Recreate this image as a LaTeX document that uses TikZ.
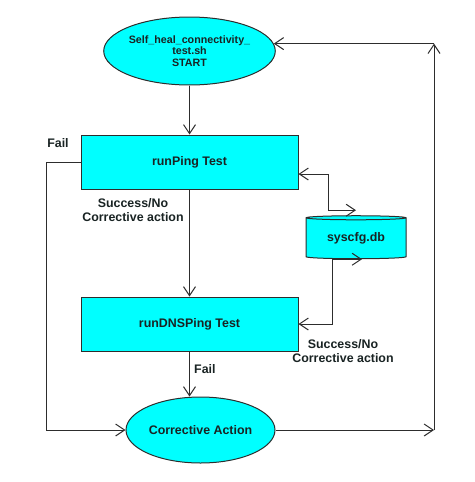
\documentclass[tikz,border=0pt]{standalone}
\usepackage{fontspec}
\setmainfont{Liberation Sans}
\usetikzlibrary{arrows.meta,shapes.geometric}
\definecolor{boxfill}{RGB}{0,255,255}
\definecolor{edge}{RGB}{45,45,45}
\definecolor{txt}{RGB}{25,35,35}
\tikzset{
  base/.style={draw=edge, line width=1pt, fill=boxfill, text=txt,
    font=\bfseries\fontsize{12.4}{14.4}\selectfont, inner sep=0pt, align=center},
  procbox/.style={base, rectangle, minimum width=217pt, minimum height=54pt},
  oval/.style={base, ellipse},
  dbshape/.style={base, cylinder, shape border rotate=90, aspect=0.07,
    minimum width=100pt, minimum height=43pt},
  lbl/.style={text=txt, font=\bfseries\fontsize{12.4}{14.4}\selectfont, align=center, inner sep=0pt},
  conn/.style={draw=edge, line width=1pt, arrows={-Straight Barb[length=9pt,width=12pt]}},
  conn2/.style={draw=edge, line width=1pt, arrows={Straight Barb[length=9pt,width=12pt]-Straight Barb[length=9pt,width=12pt]}},
}
\begin{document}
\begin{tikzpicture}[x=1pt,y=-1pt]
\useasboundingbox (0,0) rectangle (474,482);
\node[oval, minimum width=145pt, minimum height=68pt,
  font=\bfseries\fontsize{10.7}{11.5}\selectfont] (start) at (189.5,51)
  {Self\_heal\_connectivity\_\\test.sh\\START};
\node[procbox] (ping) at (189.5,162) {runPing Test};
\node[procbox] (dns) at (189.5,324) {runDNSPing Test};
\node[dbshape] (db) at (356,238.5) {syscfg.db};
\node[oval, minimum width=149pt, minimum height=66pt] (corr) at (200.5,430) {Corrective Action};

\node[lbl] (fail1) at (58,143) {Fail};
\node[lbl] (succ1) at (133,210) {Success/No\\Corrective action};
\node[lbl, anchor=west] (fail2) at (194,369) {Fail};
\node[lbl] (succ2) at (343,351) {Success/No\\Corrective action};

\coordinate (lf) at (46,430);
\coordinate (rb) at (434,430);
\coordinate (rt) at (rb |- start.5);
\coordinate (tdb) at ([yshift=5pt]db.north);
\coordinate (tj) at ([xshift=-28pt]tdb);
\coordinate (bdb) at ([xshift=6pt]db.south);
\coordinate (bj) at ([xshift=-24pt]db.south);

\draw[conn] (start.south) -- (ping.north);
\draw[conn] (ping.south) -- (dns.north);
\draw[conn] (dns.south) -- (corr.north -| dns.south);
\draw[conn] (ping.west) -| (lf) -- (corr.west);
\draw[conn] (corr.east) -- (rb);
\draw[conn] (rb) -- (rt);
\draw[conn] (rt) -- (start.5);
\draw[conn2] (tdb) -- (tj) |- ([yshift=-12pt]ping.east);
\draw[conn2] (bdb) -- (bj) |- (dns.east);
\end{tikzpicture}
\end{document}
